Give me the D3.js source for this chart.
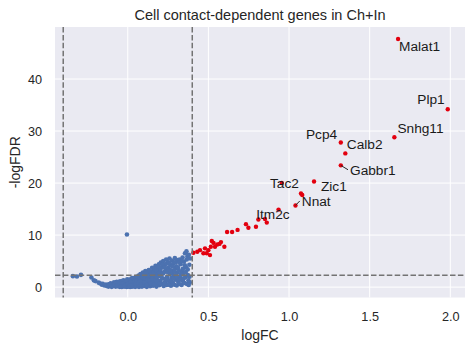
<!DOCTYPE html>
<html lang="en">
<head>
<meta charset="utf-8">
<title>Cell contact-dependent genes in Ch+In</title>
<script src="https://cdn.jsdelivr.net/npm/d3@7"></script>
<style>
  body { margin: 0; background: #fff; }
  .cutoff { stroke: #737373; stroke-width: 1.5; stroke-dasharray: 5.5, 2.4; fill: none; }
  .link { stroke: #262626; stroke-width: 1; }
</style>
</head>
<body>
<script>
// tick values
var xTicks = [0, 0.5, 1, 1.5, 2];
var yTicks = [0, 10, 20, 30, 40];

// cutoffs (logFC +-0.4, -ln(0.1))
var fcCut = [-0.4, 0.4];
var fdrCut = 2.3;

// non significant genes [logFC, -logFDR]
var blueGenes = [
  [-0.34,2.1],[-0.315,2.05],[-0.29,2.35],[-0.225,1.85],[-0.21,1.3],[-0.2,1.15],[-0.18,0.85],[-0.17,0.7],
  [-0.16,0.45],[-0.155,0.65],[-0.145,0.3],[-0.135,0.5],[-0.13,0.2],
  [-0.12,0.1],[-0.118,0.55],[-0.11,0.3],[-0.105,0.75],[-0.1,0.05],[-0.095,0.4],[-0.09,0.2],[-0.085,0.9],
  [-0.08,0.6],[-0.075,0.1],[-0.07,0.35],[-0.068,1.0],[-0.062,0.15],[-0.058,0.7],[-0.055,0.45],[-0.05,0.05],
  [-0.048,1.1],[-0.044,0.25],
  [-0.04,0.6],[-0.037,0.02],[-0.033,0.85],[-0.03,0.3],[-0.026,1.3],[-0.022,0.1],[-0.02,0.5],[-0.016,1.0],
  [-0.012,0.2],[-0.01,0.7],[-0.006,0.04],[-0.003,1.5],[0.0,0.35],[0.003,0.9],[0.006,0.12],[0.01,0.55],
  [0.012,1.25],[0.015,0.02],[0.018,0.75],[0.021,0.3],[0.024,1.7],[0.027,0.08],[0.03,1.05],[0.033,0.45],
  [0.036,0.2],[0.04,1.45],[0.043,0.65],[0.046,0.05],[0.049,1.95],[0.052,0.35],
  [0.055,0.9],[0.058,0.15],[0.061,1.6],[0.064,0.55],[0.067,2.2],[0.07,0.05],[0.073,1.2],[0.076,0.3],
  [0.079,2.5],[0.082,0.75],[0.085,1.8],[0.088,0.1],[0.091,1.0],[0.094,2.8],[0.097,0.45],[0.1,1.45],
  [0.103,0.2],[0.106,2.1],[0.109,3.1],[0.112,0.65],[0.115,1.2],[0.118,0.05],[0.121,2.5],[0.124,0.35],
  [0.127,1.7],[0.13,3.3],[0.133,0.9],[0.136,2.0],[0.139,0.15],[0.142,2.9],[0.145,1.35],[0.148,0.5],
  [0.151,3.7],[0.154,2.3],
  [0.157,0.25],[0.16,1.1],[0.163,3.2],[0.166,1.8],[0.169,0.6],[0.172,4.1],[0.175,2.6],[0.178,0.1],
  [0.181,1.45],[0.184,3.6],[0.187,0.8],[0.19,2.1],[0.193,4.4],[0.196,0.35],[0.199,3.0],[0.202,1.2],
  [0.205,4.7],[0.208,2.4],[0.211,0.55],[0.214,3.9],[0.217,1.65],[0.22,5.0],[0.223,0.2],[0.226,2.9],
  [0.229,4.3],[0.232,1.0],[0.235,3.4],[0.238,5.3],[0.241,0.4],[0.244,2.0],[0.247,4.8],[0.25,1.35],
  [0.253,3.7],[0.256,0.7],[0.259,5.5],[0.262,2.5],[0.265,4.2],[0.268,0.25],[0.271,1.8],[0.274,5.1],
  [0.277,3.2],[0.28,0.9],[0.283,4.6],[0.286,2.2],[0.289,0.45],[0.292,5.6],[0.295,3.6],[0.298,1.4],
  [0.301,4.0],[0.304,0.3],[0.307,2.8],[0.31,5.2],[0.313,1.0],[0.316,3.3],[0.319,0.6],[0.322,5.3],
  [0.325,2.0],[0.328,4.4],[0.331,1.5],[0.334,0.4],[0.337,3.0],[0.34,5.7],[0.343,1.1],[0.346,2.5],
  [0.349,4.9],[0.352,0.8],[0.355,6.5],[0.358,1.9],[0.361,3.8],[0.364,6.9],[0.367,0.6],[0.37,5.9],
  [0.373,2.3],[0.376,1.3],[0.379,6.2],[0.382,4.3],[0.385,0.9],
  [-0.11,0.6],[-0.097,0.15],[-0.083,0.45],[-0.073,0.8],[-0.064,0.3],[-0.052,0.9],[-0.041,0.15],[-0.035,1.15],
  [-0.028,0.65],[-0.018,0.25],[-0.008,1.2],[0.001,0.6],[0.008,0.2],[0.014,1.45],[0.02,0.95],[0.026,0.5],
  [0.031,1.75],[0.038,0.9],[0.044,1.2],[0.05,0.6],[0.056,1.35],[0.06,2.0],[0.066,0.85],[0.071,1.6],
  [0.077,1.1],[0.083,2.3],[0.087,0.5],[0.092,1.9],[0.098,2.6],[0.104,0.9],[0.108,1.7],[0.114,2.7],
  [0.119,0.4],[0.123,1.5],[0.128,2.2],[0.134,1.2],[0.138,3.0],[0.143,0.75],[0.147,2.6],[0.153,1.6],
  [0.158,2.8],[0.162,0.5],[0.167,3.5],[0.171,1.4],[0.176,2.0],[0.18,3.2],[0.186,1.1],[0.189,3.9],
  [0.195,2.7],[0.2,0.7],[0.204,3.5],[0.21,1.9],[0.215,4.3],[0.219,2.6],[0.225,0.8],[0.23,3.8],
  [0.236,1.6],[0.24,4.5],[0.246,2.9],[0.252,0.45],[0.257,4.6],[0.263,3.3],[0.269,1.2],[0.275,2.7],
  [0.279,4.0],[0.285,1.7],[0.29,3.0],[0.296,4.8],[0.3,2.4],[0.306,1.9],[0.311,3.8],[0.318,4.8],
  [0.323,1.4],[0.33,2.6],[0.336,5.0],[0.342,3.5],[0.348,1.7],[0.354,4.2],[0.36,2.9],[0.366,5.3],
  [0.372,3.4],[0.378,0.4],[0.383,2.0],[0.387,5.5],
  [-0.005,10.1]
];

// significant genes [logFC, -logFDR]
var redGenes = [
  [1.676,47.7],[1.984,34.2],[1.653,28.8],[1.321,27.8],[1.349,25.7],[1.321,23.4],[1.155,20.3],[0.955,20.0],
  [1.074,18.0],[1.082,17.7],[1.040,15.7],[0.935,14.9],[0.810,13.0],[0.851,13.1],[0.862,12.4],[0.733,12.1],
  [0.748,11.4],[0.795,11.6],[0.681,11.0],[0.647,10.6],[0.616,10.6],[0.599,7.75],[0.521,8.85],[0.532,8.5],
  [0.555,8.2],[0.569,8.3],[0.541,7.75],[0.515,7.75],[0.500,7.1],[0.479,7.45],[0.448,7.1],[0.431,6.8],
  [0.407,6.6],[0.469,6.5],[0.490,6.5],[0.510,6.15],[0.578,8.65]
];

// gene labels: name, index into redGenes, text position (logFC, -logFDR)
var labelNames = ["Malat1", "Plp1", "Snhg11", "Pcp4", "Calb2", "Gabbr1", "Zic1", "Tac2", "Nnat", "Itm2c"];
var labelPoint = [0, 1, 2, 3, 4, 5, 6, 7, 10, 11];
var labelFC = [1.682, 1.795, 1.672, 1.105, 1.358, 1.378, 1.198, 0.882, 1.079, 0.796];
var labelFDR = [45.3, 35.2, 29.7, 28.5, 26.6, 21.6, 18.5, 19.1, 15.6, 13.1];
var linked = ["Gabbr1", "Nnat"];

var w = 474, h = 350;
var margin = {top: 27, right: 9, bottom: 52.5, left: 55};
var font = "'Liberation Sans', Arial, sans-serif";

var svg = d3.select("body").append("svg")
    .attr("width", w)
    .attr("height", h)
    .style("font-family", font);

var xScale = d3.scaleLinear().domain([-0.451, 2.091]).range([margin.left, w - margin.right]);
var yScale = d3.scaleLinear().domain([-2.0, 50.0]).range([h - margin.bottom, margin.top]);

// background
svg.append("rect")
    .attr("x", margin.left)
    .attr("y", margin.top)
    .attr("width", w - margin.left - margin.right)
    .attr("height", h - margin.top - margin.bottom)
    .attr("fill", "#eaeaf2");

// white grid
svg.append("g").selectAll("line").data(xTicks).enter().append("line")
    .attr("x1", function(d) { return xScale(d); })
    .attr("x2", function(d) { return xScale(d); })
    .attr("y1", margin.top)
    .attr("y2", h - margin.bottom)
    .attr("stroke", "#fff").attr("stroke-width", 1);
svg.append("g").selectAll("line").data(yTicks).enter().append("line")
    .attr("y1", function(d) { return yScale(d); })
    .attr("y2", function(d) { return yScale(d); })
    .attr("x1", margin.left)
    .attr("x2", w - margin.right)
    .attr("stroke", "#fff").attr("stroke-width", 1);

// axes (no spines, like seaborn darkgrid)
var xAxis = d3.axisBottom(xScale).tickValues(xTicks).tickFormat(d3.format(".1f")).tickSize(0).tickPadding(14);
var yAxis = d3.axisLeft(yScale).tickValues(yTicks).tickFormat(d3.format("d")).tickSize(0).tickPadding(13);

var gx = svg.append("g").attr("transform", "translate(0," + (h - margin.bottom) + ")").call(xAxis);
var gy = svg.append("g").attr("transform", "translate(" + margin.left + ",0)").call(yAxis);
[gx, gy].forEach(function(g) {
    g.select(".domain").remove();
    g.attr("font-family", font).attr("font-size", 12.7);
    g.selectAll("text").attr("fill", "#262626");
});

// scatter points
svg.append("g").selectAll("circle").data(blueGenes).enter().append("circle")
    .attr("cx", function(d) { return xScale(d[0]); })
    .attr("cy", function(d) { return yScale(d[1]); })
    .attr("r", 2.3)
    .attr("fill", "#4c72b0");

svg.append("g").selectAll("circle").data(redGenes).enter().append("circle")
    .attr("cx", function(d) { return xScale(d[0]); })
    .attr("cy", function(d) { return yScale(d[1]); })
    .attr("r", 2.2)
    .attr("fill", "#e3000f");

// cutoff lines
svg.selectAll(".vcut").data(fcCut).enter().append("line")
    .attr("class", "cutoff")
    .attr("x1", function(d) { return xScale(d); })
    .attr("x2", function(d) { return xScale(d); })
    .attr("y1", margin.top)
    .attr("y2", h - margin.bottom);
svg.append("line")
    .attr("class", "cutoff")
    .attr("x1", margin.left)
    .attr("x2", w - margin.right)
    .attr("y1", yScale(fdrCut))
    .attr("y2", yScale(fdrCut));

// links from point to label
labelNames.forEach(function(name, i) {
    if (linked.indexOf(name) < 0) return;
    var p = redGenes[labelPoint[i]];
    svg.append("line")
        .attr("class", "link")
        .attr("x1", xScale(p[0]))
        .attr("y1", yScale(p[1]))
        .attr("x2", xScale(labelFC[i]) - 2)
        .attr("y2", yScale(labelFDR[i]) - 5);
});

// gene labels
svg.append("g").selectAll("text").data(labelNames).enter().append("text")
    .attr("x", function(d, i) { return xScale(labelFC[i]); })
    .attr("y", function(d, i) { return yScale(labelFDR[i]); })
    .attr("font-size", 13.7)
    .attr("fill", "#1a1a1a")
    .text(function(d) { return d; });

// title and axis labels
svg.append("text")
    .attr("x", (margin.left + w - margin.right) / 2)
    .attr("y", 20)
    .attr("text-anchor", "middle")
    .attr("font-size", 14.5)
    .attr("fill", "#262626")
    .text("Cell contact-dependent genes in Ch+In");

svg.append("text")
    .attr("x", (margin.left + w - margin.right) / 2)
    .attr("y", 340)
    .attr("text-anchor", "middle")
    .attr("font-size", 14)
    .attr("fill", "#262626")
    .text("logFC");

svg.append("text")
    .attr("transform", "translate(20," + ((margin.top + h - margin.bottom) / 2) + ") rotate(-90)")
    .attr("text-anchor", "middle")
    .attr("font-size", 14)
    .attr("fill", "#262626")
    .text("-logFDR");
</script>
</body>
</html>
